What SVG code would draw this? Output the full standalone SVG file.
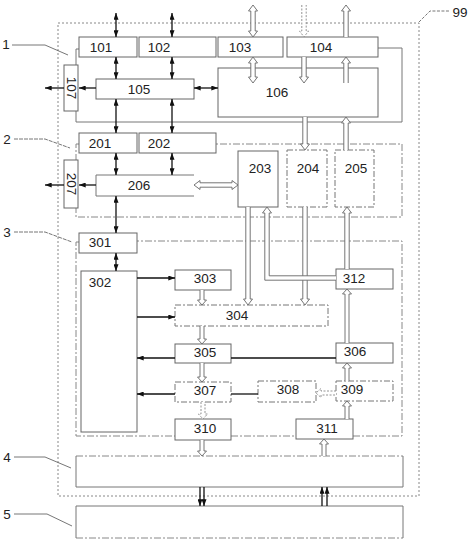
<svg xmlns="http://www.w3.org/2000/svg" width="474" height="546" viewBox="0 0 474 546">
<style>
.b{fill:#fff;stroke:#666;stroke-width:1}
.bd{fill:#fff;stroke:#777;stroke-width:1;stroke-dasharray:6 2 2 2}
.g{fill:none;stroke:#777;stroke-width:1}
.gd{fill:none;stroke:#888;stroke-width:1;stroke-dasharray:7 2 2 2}
.o{fill:none;stroke:#888;stroke-width:1;stroke-dasharray:2 2}
.t{font-family:"Liberation Sans",Arial,sans-serif;font-size:13.5px;fill:#222;text-anchor:middle;dominant-baseline:central}
.k{stroke:#111;stroke-width:1.3;fill:none}
.h{fill:#fff;stroke:#666;stroke-width:0.9}
.hd{fill:#fff;stroke:#888;stroke-width:0.9;stroke-dasharray:2 1.5}
.l{fill:none;stroke:#666;stroke-width:0.9}
</style>
<defs>
<marker id="ah" viewBox="0 0 8 6" refX="8" refY="3" markerWidth="7" markerHeight="5" markerUnits="userSpaceOnUse" orient="auto-start-reverse">
<path d="M0,0 L8,3 L0,6 z" fill="#111"/>
</marker>
</defs>
<rect width="474" height="546" fill="#fff"/>

<g id="frame99">
<rect x="58" y="23" width="361" height="473" class="o"/>
<path d="M419,22 L430,11 H450" class="l" stroke-dasharray="3 1.5"/>
<text x="460" y="12" class="t">99</text>
</g>

<g id="labels">
<path d="M12,45 H45 L68,55" class="l"/>
<text x="6" y="44" class="t">1</text>
<path d="M14,139 H45 L70,148" class="l" stroke-dasharray="4 1"/>
<text x="7" y="139" class="t">2</text>
<path d="M14,232 H45 L72,242" class="l" stroke-dasharray="4 1"/>
<text x="7" y="232" class="t">3</text>
<path d="M14,457 H45 L71,468" class="l"/>
<text x="7" y="457" class="t">4</text>
<path d="M14,514 H47 L72,526" class="l"/>
<text x="7" y="514" class="t">5</text>
</g>

<g id="group1">
<path d="M79,49 H76 V122 H402 V48 H378" class="g"/>
</g>
<g id="group2">
<path d="M79,144 H76 V217 H402 V144 H216" class="gd"/>
</g>
<g id="group3">
<path d="M79,242 H76 V436 H175 M231,436 H296 M353,436 H402 V241 H137" class="gd"/>
</g>

<g id="n101"><rect x="79" y="37" width="58" height="20" class="b"/><text x="101" y="47" class="t">101</text></g>
<g id="n102"><rect x="139" y="37" width="77" height="20" class="b"/><text x="159" y="47" class="t">102</text></g>
<g id="n103"><rect x="218" y="37" width="65" height="20" class="b"/><text x="240" y="47" class="t">103</text></g>
<g id="n104"><rect x="287" y="37" width="91" height="20" class="b"/><text x="321" y="47" class="t">104</text></g>
<g id="n105"><rect x="96" y="79" width="98" height="20" class="b"/><text x="139" y="89" class="t">105</text></g>
<g id="n106"><rect x="218" y="68" width="160" height="49" class="b"/><text x="277" y="92" class="t">106</text></g>
<g id="n107"><rect x="64" y="65" width="14" height="46" class="b"/><text x="71" y="88" class="t" transform="rotate(90 71 88)">107</text></g>

<g id="n201"><rect x="79" y="133" width="58" height="20" class="b"/><text x="100" y="143" class="t">201</text></g>
<g id="n202"><rect x="139" y="133" width="77" height="20" class="b"/><text x="159" y="143" class="t">202</text></g>
<g id="n203"><rect x="238" y="151" width="40" height="56" class="b"/><text x="260" y="168" class="t">203</text></g>
<g id="n204"><rect x="287" y="150" width="40" height="57" class="bd"/><text x="308" y="168" class="t">204</text></g>
<g id="n205"><rect x="335" y="150" width="39" height="57" class="bd"/><text x="356" y="168" class="t">205</text></g>
<g id="n206"><path d="M194,175 H96 V196 H194" class="g"/><text x="139" y="185" class="t">206</text></g>
<g id="n207"><rect x="64" y="160" width="14" height="48" class="b"/><text x="71" y="184" class="t" transform="rotate(90 71 184)">207</text></g>

<g id="n301"><rect x="79" y="233" width="58" height="20" class="b"/><text x="100" y="242" class="t">301</text></g>
<g id="n302"><rect x="81" y="271" width="56" height="161" class="b"/><text x="100" y="282" class="t">302</text></g>
<g id="n303"><rect x="175" y="270" width="56" height="20" class="b"/><text x="205" y="278" class="t">303</text></g>
<g id="n304"><rect x="175" y="305" width="153" height="21" class="bd"/><text x="237" y="315" class="t">304</text></g>
<g id="n305"><rect x="175" y="344" width="56" height="19" class="b"/><text x="205" y="352" class="t">305</text></g>
<g id="n306"><rect x="336" y="343" width="57" height="20" class="b"/><text x="355" y="351" class="t">306</text></g>
<g id="n307"><rect x="175" y="382" width="56" height="20" class="bd"/><text x="205" y="390" class="t">307</text></g>
<g id="n308"><rect x="258" y="381" width="58" height="21" class="bd"/><text x="288" y="389" class="t">308</text></g>
<g id="n309"><rect x="336" y="381" width="57" height="20" class="bd"/><text x="352" y="389" class="t">309</text></g>
<g id="n310"><rect x="175" y="419" width="56" height="21" class="b"/><text x="205" y="428" class="t">310</text></g>
<g id="n311"><rect x="296" y="419" width="57" height="20" class="b"/><text x="327" y="428" class="t">311</text></g>
<g id="n312"><rect x="336" y="269" width="57" height="20" class="b"/><text x="354" y="278" class="t">312</text></g>

<g id="n4"><rect x="76" y="456" width="327" height="31" fill="#fff"/><path d="M76,456 H403" class="gd"/><path d="M76,456 V487 H403 V456" class="g"/></g>
<g id="n5"><rect x="76" y="506" width="327" height="32" fill="#fff"/><path d="M76,538 H403" class="gd"/><path d="M76,538 V506 H403 V538" class="g"/></g>

<g id="connectors">
<g class="k">
<path d="M116,13 V37" marker-start="url(#ah)" marker-end="url(#ah)"/>
<path d="M116,57 V79" marker-start="url(#ah)" marker-end="url(#ah)"/>
<path d="M116,99 V133" marker-start="url(#ah)" marker-end="url(#ah)"/>
<path d="M116,153 V175" marker-start="url(#ah)" marker-end="url(#ah)"/>
<path d="M116,196 V233" marker-start="url(#ah)" marker-end="url(#ah)"/>
<path d="M116,253 V271" marker-start="url(#ah)" marker-end="url(#ah)"/>
<path d="M172,13 V37" marker-start="url(#ah)" marker-end="url(#ah)"/>
<path d="M172,57 V79" marker-start="url(#ah)" marker-end="url(#ah)"/>
<path d="M172,99 V133" marker-start="url(#ah)" marker-end="url(#ah)"/>
<path d="M172,153 V175" marker-start="url(#ah)" marker-end="url(#ah)"/>
<path d="M96,88 H79" marker-end="url(#ah)"/>
<path d="M64,88 H45" marker-end="url(#ah)"/>
<path d="M194,88 H218" marker-start="url(#ah)" marker-end="url(#ah)"/>
<path d="M96,185 H79" marker-end="url(#ah)"/>
<path d="M64,185 H45" marker-end="url(#ah)"/>
<path d="M137,278 H175" marker-end="url(#ah)"/>
<path d="M137,317 H175" marker-end="url(#ah)"/>
<path d="M175,358 H137" marker-end="url(#ah)"/>
<path d="M231,358 H336"/>
<path d="M175,394 H137" marker-end="url(#ah)"/>
<path d="M231,394 H258"/>
<path d="M200,487 V506" marker-end="url(#ah)"/>
<path d="M204,487 V506" marker-end="url(#ah)"/>
<path d="M322,506 V487" marker-end="url(#ah)"/>
<path d="M327,506 V487" marker-end="url(#ah)"/>
</g>
<path class="h" d="M253,5 L257.5,11 H255.2 V31 H257.5 L253,37 L248.5,31 H250.8 V11 H248.5 Z"/>
<path class="h" d="M253,57 L257.5,63 H255.2 V77 H257.5 L253,83 L248.5,77 H250.8 V63 H248.5 Z"/>
<path class="hd" d="M301.8,5 V31 H299.5 L304,37 L308.5,31 H306.2 V5"/>
<path class="h" d="M301.8,57 V77 H299.5 L304,83 L308.5,77 H306.2 V57"/>
<path class="h" d="M343.8,37 V11 H341.5 L346,5 L350.5,11 H348.2 V37"/>
<path class="h" d="M343.8,83 V63 H341.5 L346,57 L350.5,63 H348.2 V83"/>
<path class="h" d="M302.8,117 V144 H300.5 L305,150 L309.5,144 H307.2 V117"/>
<path class="h" d="M343.8,150 V123 H341.5 L346,117 L350.5,123 H348.2 V150"/>
<path class="h" d="M194,185 L200,180.5 V182.8 H232 V180.5 L238,185 L232,189.5 V187.2 H200 V189.5 Z"/>
<path class="h" d="M245.8,207 V299 H243.5 L248,305 L252.5,299 H250.2 V207"/>
<path class="h" d="M302.8,207 V299 H300.5 L305,305 L309.5,299 H307.2 V207"/>
<path class="h" d="M336,280.2 H264.8 V213 H262.5 L267,207 L271.5,213 H269.2 V275.8 H336"/>
<path class="h" d="M344.8,269 V213 H342.5 L347,207 L351.5,213 H349.2 V269"/>
<path class="h" d="M200,290 V300 H197.5 L202,305 L206.5,300 H204 V290"/>
<path class="h" d="M200,326 V339 H197.5 L202,344 L206.5,339 H204 V326"/>
<path class="h" d="M200,363 V377 H197.5 L202,382 L206.5,377 H204 V363"/>
<path class="hd" d="M201,402 V414 H198.5 L203,419 L207.5,414 H205 V402"/>
<path class="h" d="M200,440 V451 H197.5 L202,456 L206.5,451 H204 V440"/>
<path class="h" d="M345,419 V406 H342.5 L347,401 L351.5,406 H349 V419"/>
<path class="h" d="M345,381 V368 H342.5 L347,363 L351.5,368 H349 V381"/>
<path class="h" d="M345,343 V294 H342.5 L347,289 L351.5,294 H349 V343"/>
<path class="hd" d="M336,391 H321 V388.5 L316,393 L321,397.5 V395 H336"/>
<path class="h" d="M322,456 V444 H319.5 L324,439 L328.5,444 H326 V456"/>
</g>
</svg>
